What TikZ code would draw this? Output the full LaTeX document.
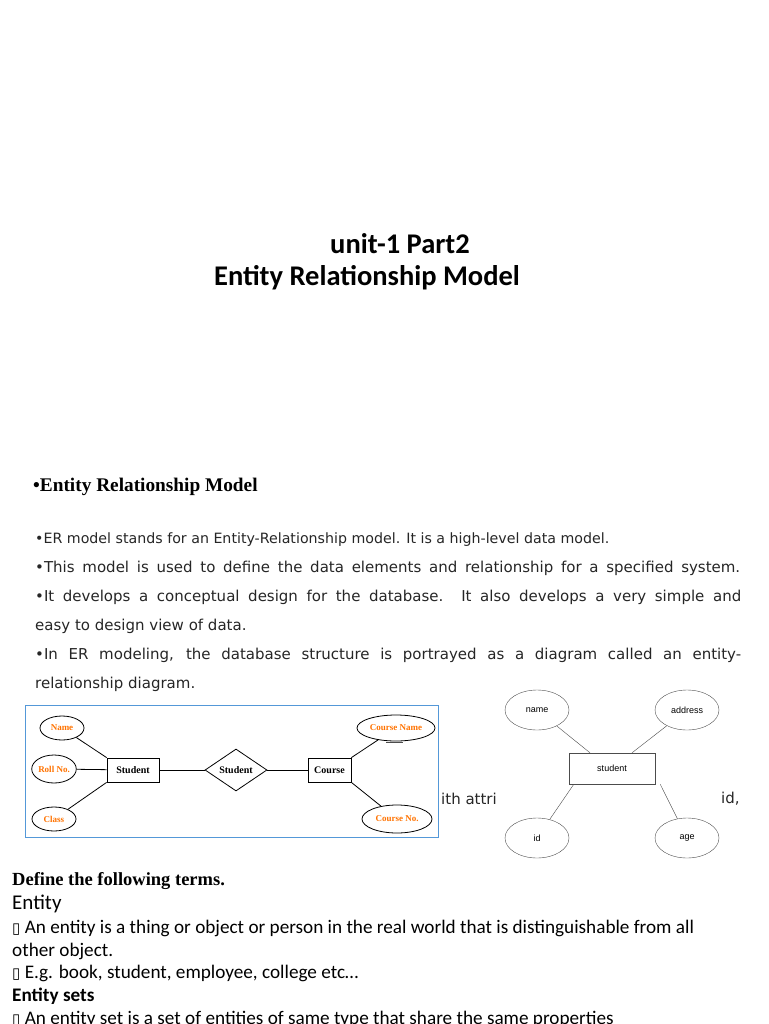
\documentclass[tikz,border=0pt]{standalone}
\usepackage{fontspec}
\setmainfont{Liberation Serif}
\newfontfamily\calfnt{Carlito}
\newfontfamily\dv{DejaVu Sans}
\newfontfamily\ls{Liberation Sans}
\usetikzlibrary{shapes.geometric,calc}
\begin{document}
\begin{tikzpicture}[x=1pt,y=-1pt,
 ln/.style={anchor=west,inner sep=0pt,font=\dv\fontsize{15}{18}\selectfont,text=black!85},
 att/.style={ellipse,draw,thick,inner sep=0pt,font=\bfseries\fontsize{9}{10}\selectfont,text=orange!90!red},
 ent/.style={rectangle,draw,thick,inner sep=0pt,font=\bfseries\fontsize{10}{11}\selectfont},
 att2/.style={ellipse,draw=black!70,inner sep=0pt,minimum width=64pt,minimum height=40pt,font=\ls\fontsize{9}{10}\selectfont},
 bx/.style={anchor=west,inner sep=0pt},
 cn/.style={thick},cn2/.style={draw=black!70}]
\useasboundingbox (0,0) rectangle (768,1024);
\fill[white] (0,0) rectangle (768,1024);
\node (t1) at (400,244) {\calfnt\bfseries\fontsize{28.5}{32}\selectfont unit-1 Part2};
\node (t2) at (367,278) {\calfnt\bfseries\fontsize{28.5}{32}\selectfont Entity Relationship Model};
\node[bx] (h) at (33,487) {\bfseries\fontsize{19.3}{22}\selectfont•Entity Relationship Model};
\node[ln,font=\dv\fontsize{14.2}{16}\selectfont] (l1) at (35,540) {•ER model stands for an Entity-Relationship model. It is a high-level data model.};
\node[ln] (l2) at (35,568) {\makebox[705pt][s]{•This model is used to define the data elements and relationship for a specified system.}};
\node[ln] (l3) at (35,597) {\makebox[706pt][s]{•It develops a conceptual design for the database. It also develops a very simple and}};
\node[ln] (l4) at (35,626) {easy to design view of data.};
\node[ln] (l5) at (35,655) {\makebox[706pt][s]{•In ER modeling, the database structure is portrayed as a diagram called an entity-}};
\node[ln] (l6) at (35,684) {relationship diagram.};
\node[ln] (l7) at (441,799) {ith attri};
\node[ln] (l8) at (721,799) {id,};
% left diagram
\node[draw=cyan!60!blue!70,line width=1pt,minimum width=413pt,minimum height=132pt,inner sep=0pt] (box) at (231.5,771) {};
\node[ent,minimum width=52pt,minimum height=24pt] (st) at (133,770) {Student};
\node[ent,minimum width=43pt,minimum height=24pt] (co) at (329.5,770) {Course};
\node[diamond,draw,thick,minimum width=62pt,minimum height=42pt,inner sep=0pt,font=\bfseries\fontsize{10}{11}\selectfont] (rel) at (236,770) {Student};
\node[att,minimum width=44pt,minimum height=24pt] (a1) at (62,728) {Name};
\node[att,minimum width=44pt,minimum height=28pt] (a2) at (54,769) {Roll No.};
\node[att,minimum width=44pt,minimum height=24pt] (a3) at (54,819) {Class};
\node[att,minimum width=78pt,minimum height=26pt] (a4) at (396,728) {Course Name};
\node[att,minimum width=70pt,minimum height=28pt] (a5) at (397,819) {Course No.};
\draw[cn] (a1) -- (st.north west);
\draw[cn] (a2) -- (st);
\draw[cn] (a3) -- (st.south west);
\draw[cn] (st) -- (rel);
\draw[cn] (rel) -- (co);
\draw[cn] (a4) -- (co.north east);
\draw[cn] (a5) -- (co.south east);
\draw[black!70,thick] (386,742) -- (403,742);
% right diagram
\node[rectangle,draw=black!70,minimum width=86pt,minimum height=31pt,inner sep=0pt,font=\ls\fontsize{9}{10}\selectfont] (s2) at (612,768.5) {student};
\node[att2] (n) at (537,710) {name};
\node[att2] (ad) at (687,710) {address};
\node[att2] (i) at (537,838) {id};
\node[att2] (ag) at (687,838) {age};
\draw[cn2] (n) -- ($(s2.north)+(-22,0)$);
\draw[cn2] (ad) -- ($(s2.north)+(20,0)$);
\draw[cn2] (i) -- ($(s2.south west)+(5,0)$);
\draw[cn2] (ag) -- ($(s2.south east)+(5,0)$);
% bottom
\node[bx] (d) at (12,881) {\bfseries\fontsize{18.5}{20}\selectfont Define the following terms.};
\node[bx] (e) at (12,904) {\calfnt\fontsize{21}{22}\selectfont Entity};
\node[bx] (b1) at (12,928) {\calfnt\fontsize{19.2}{20}\selectfont{\dv\fontsize{15}{15}\selectfont ▯} An entity is a thing or object or person in the real world that is distinguishable from all};
\node[bx] (b2) at (12,951) {\calfnt\fontsize{19.2}{20}\selectfont other object.};
\node[bx] (b3) at (12,973) {\calfnt\fontsize{19.2}{20}\selectfont{\dv\fontsize{15}{15}\selectfont ▯} E.g. book, student, employee, college etc…};
\node[bx] (b4) at (12,996) {\calfnt\bfseries\fontsize{19.2}{20}\selectfont Entity sets};
\node[bx] (b5) at (12,1019) {\calfnt\fontsize{19.2}{20}\selectfont{\dv\fontsize{15}{15}\selectfont ▯} An entity set is a set of entities of same type that share the same properties};
\end{tikzpicture}
\end{document}
